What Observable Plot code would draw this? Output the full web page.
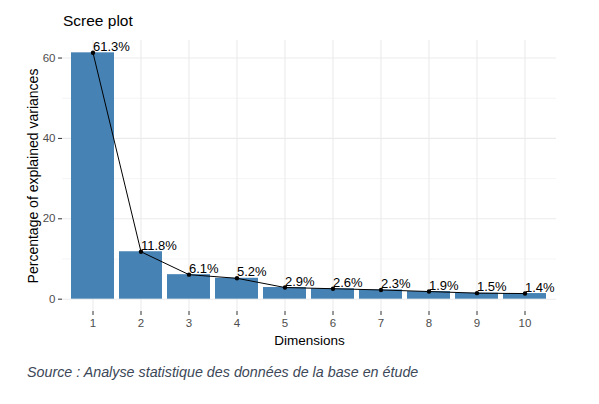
<!DOCTYPE html>
<html>
<head>
<meta charset="utf-8">
<script src="https://cdn.jsdelivr.net/npm/d3@7"></script>
<script src="https://cdn.jsdelivr.net/npm/@observablehq/plot@0.6"></script>
<style>
  body { margin: 0; background: #fff; font-family: "Liberation Sans", Arial, sans-serif; }
  #wrap { position: relative; width: 599px; height: 404px; }
  #title { position: absolute; left: 63px; top: 12px; font-size: 15.5px; color: #000; }
  #chart { position: absolute; left: 0; top: 34px; }
  #caption { position: absolute; left: 27px; top: 364px; font-size: 14.3px; font-style: italic; color: #3c4858; }
</style>
</head>
<body>
<div id="wrap">
  <div id="title">Scree plot</div>
  <div id="chart"></div>
  <div id="caption">Source : Analyse statistique des données de la base en étude</div>
</div>
<script>
// eigenvalue shares
const dims = [1, 2, 3, 4, 5, 6, 7, 8, 9, 10];
const variances = [61.3, 11.8, 6.1, 5.2, 2.9, 2.6, 2.3, 1.9, 1.5, 1.4];
const majorTicks = [0, 20, 40, 60];
const minorTicks = [10, 30, 50];

(function () {
  const rows = dims.map((d, i) => ({ dim: d, value: variances[i], label: variances[i].toFixed(1) + "%" }));
  const ymax = d3.max(variances);
  const pad = ymax * 0.05;

  const fig = Plot.plot({
    width: 599,
    height: 316,
    marginLeft: 62,
    marginRight: 43,
    marginTop: 6,
    marginBottom: 39,
    style: { fontFamily: "Liberation Sans, Arial, sans-serif", fontSize: "11px", background: "none" },
    x: {
      type: "band",
      domain: dims,
      paddingInner: 0.1,
      paddingOuter: 0.15,
      label: null
    },
    y: { domain: [-pad, ymax + pad], label: null },
    marks: [
      Plot.ruleY(minorTicks, { stroke: "#ebebeb", strokeWidth: 0.55 }),
      Plot.ruleY(majorTicks, { stroke: "#ebebeb", strokeWidth: 1.1 }),
      Plot.ruleX(dims, { x: (d) => d, stroke: "#ebebeb", strokeWidth: 1.1 }),
      Plot.barY(rows, { x: "dim", y: "value", fill: "#4682B4" }),
      Plot.line(rows, { x: "dim", y: "value", stroke: "#000", strokeWidth: 1 }),
      Plot.dot(rows, { x: "dim", y: "value", fill: "#000", r: 2.2 }),
      Plot.text(rows, {
        x: "dim", y: "value", text: "label",
        textAnchor: "start", lineAnchor: "bottom", dy: -2,
        fontSize: 13, fill: "#000"
      }),
      Plot.axisY(majorTicks, {
        tickSize: 4, tickPadding: 3, stroke: "#333", color: "#4d4d4d", fontSize: 11.5, label: null
      }),
      Plot.axisX(dims, {
        tickSize: 4, tickPadding: 3, stroke: "#333", color: "#4d4d4d", fontSize: 11.5, label: null
      }),
      Plot.text(["Percentage of explained variances"], {
        frameAnchor: "left", textAnchor: "middle", dx: -29, rotate: -90, fontSize: 14, fill: "#000"
      }),
      Plot.text(["Dimensions"], {
        frameAnchor: "bottom", dy: 33, fontSize: 13.5, fill: "#000"
      })
    ]
  });

  document.getElementById("chart").replaceChildren(fig);
})();
</script>
</body>
</html>
